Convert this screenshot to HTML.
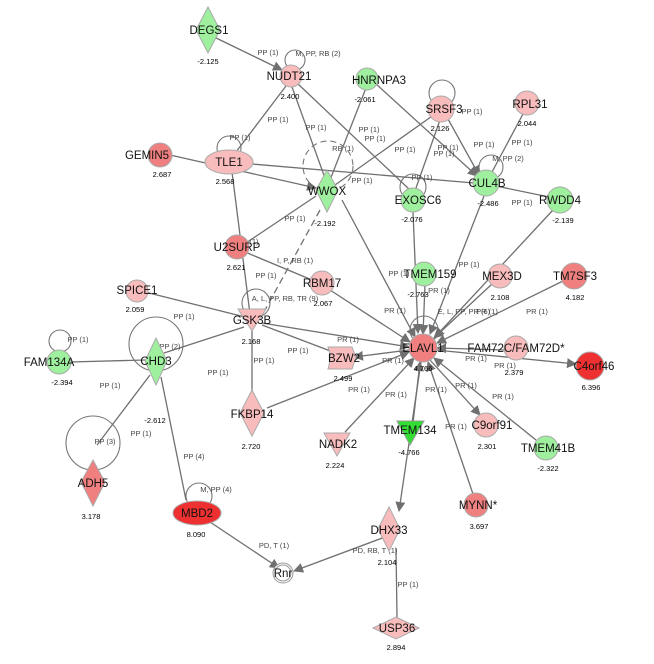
<!DOCTYPE html>
<html><head><meta charset="utf-8"><style>
html,body{margin:0;padding:0;background:#fff;}
svg{display:block;font-family:"Liberation Sans",sans-serif;}
.l{font-size:11.5px;fill:#111;text-anchor:middle;}
.v{font-size:7.5px;fill:#000;text-anchor:middle;}
.e{font-size:7.5px;fill:#444;text-anchor:middle;}
line,path.ed{stroke:#707070;stroke-width:1.3;fill:none;}
.lp{stroke:#777;stroke-width:1.1;fill:none;}
.pk{fill:#f9bcbc;stroke:#aaa;stroke-width:1;}
.md{fill:#f08080;stroke:#aaa;stroke-width:1;}
.rd{fill:#ee3030;stroke:#aaa;stroke-width:1;}
.gr{fill:#9ef09e;stroke:#aaa;stroke-width:1;}
.dg{fill:#33dd33;stroke:#999;stroke-width:1;}
</style></head><body>
<svg width="654" height="664" viewBox="0 0 654 664">
<defs><marker id="a" markerWidth="10" markerHeight="10" refX="9" refY="5" orient="auto" markerUnits="userSpaceOnUse"><path d="M0,0 L10,5 L0,10 z" fill="#707070"/></marker></defs>
<!-- self loops -->
<circle class="lp" cx="295" cy="60" r="10"/>
<circle class="lp" cx="442" cy="93" r="13"/>
<circle class="lp" cx="229" cy="148" r="12"/>
<circle class="lp" cx="413" cy="187" r="13"/>
<circle class="lp" cx="491" cy="167" r="12"/>
<circle class="lp" cx="328" cy="166" r="25" stroke-dasharray="6,4"/>
<circle class="lp" cx="256" cy="303" r="14"/>
<circle class="lp" cx="424" cy="330" r="14"/>
<circle class="lp" cx="60" cy="341" r="11"/>
<circle class="lp" cx="156" cy="344" r="27"/>
<circle class="lp" cx="93" cy="443" r="27"/>
<circle class="lp" cx="199" cy="496" r="13"/>
<!-- edges -->
<line x1="212" y1="36" x2="282" y2="70" marker-end="url(#a)"/>
<line x1="286" y1="86" x2="236" y2="152"/>
<line x1="292" y1="87" x2="325" y2="178"/>
<line x1="297" y1="83" x2="410" y2="190"/>
<line x1="366" y1="88" x2="330" y2="180"/>
<line x1="375" y1="83" x2="477" y2="176" marker-end="url(#a)"/>
<line x1="435" y1="114" x2="335" y2="185"/>
<line x1="440" y1="120" x2="416" y2="188"/>
<line x1="448" y1="119" x2="479" y2="175" marker-end="url(#a)"/>
<line x1="523" y1="114" x2="492" y2="172"/>
<line x1="252" y1="164" x2="474" y2="183"/>
<line x1="170" y1="155" x2="316" y2="188" marker-end="url(#a)"/>
<line x1="342" y1="200" x2="415" y2="337" marker-end="url(#a)"/>
<line x1="413" y1="212" x2="418" y2="333" marker-end="url(#a)"/>
<line x1="484" y1="196" x2="430" y2="334" marker-end="url(#a)"/>
<line x1="496" y1="186" x2="549" y2="197"/>
<line x1="553" y1="210" x2="435" y2="337" marker-end="url(#a)"/>
<line x1="246" y1="243" x2="316" y2="196"/>
<line x1="245" y1="252" x2="312" y2="280"/>
<line x1="330" y1="290" x2="410" y2="342" marker-end="url(#a)"/>
<line x1="320" y1="210" x2="265" y2="310" stroke-dasharray="7,4"/>
<line x1="232" y1="172" x2="250" y2="314"/>
<line x1="145" y1="292" x2="245" y2="317"/>
<line x1="425" y1="285" x2="423" y2="334" marker-end="url(#a)"/>
<line x1="492" y1="284" x2="434" y2="338" marker-end="url(#a)"/>
<line x1="563" y1="281" x2="437" y2="343" marker-end="url(#a)"/>
<line x1="262" y1="323" x2="409" y2="347" marker-end="url(#a)"/>
<line x1="262" y1="325" x2="333" y2="352"/>
<line x1="409" y1="350" x2="354" y2="357" marker-end="url(#a)"/>
<line x1="252" y1="330" x2="252" y2="395"/>
<line x1="267" y1="408" x2="409" y2="352" marker-end="url(#a)"/>
<line x1="244" y1="327" x2="164" y2="353"/>
<line x1="504" y1="350" x2="437" y2="348" marker-end="url(#a)"/>
<line x1="436" y1="350" x2="576" y2="364" marker-end="url(#a)"/>
<line x1="345" y1="432" x2="414" y2="358" marker-end="url(#a)"/>
<line x1="413" y1="423" x2="420" y2="362" marker-end="url(#a)"/>
<line x1="430" y1="360" x2="480" y2="415" marker-end="url(#a)"/>
<line x1="536" y1="440" x2="434" y2="358" marker-end="url(#a)"/>
<line x1="473" y1="494" x2="428" y2="362" marker-end="url(#a)"/>
<line x1="421" y1="362" x2="399" y2="511" marker-end="url(#a)"/>
<line x1="70" y1="362" x2="145" y2="360"/>
<line x1="150" y1="375" x2="97" y2="445"/>
<line x1="161" y1="377" x2="186" y2="500"/>
<line x1="207" y1="520" x2="279" y2="568" marker-end="url(#a)"/>
<line x1="385" y1="537" x2="294" y2="571" marker-end="url(#a)"/>
<line x1="396" y1="548" x2="397" y2="617"/>
<!-- edge labels -->
<g class="e">
<text x="268" y="55">PP (1)</text><text x="318" y="56">M, PP, RB (2)</text>
<text x="278" y="122">PP (1)</text><text x="240" y="140">PP (1)</text>
<text x="316" y="130">PP (1)</text><text x="369" y="132">PP (1)</text><text x="375" y="141">PP (1)</text>
<text x="343" y="151">RB (1)</text><text x="405" y="152">PP (1)</text><text x="444" y="156">PP (1)</text>
<text x="362" y="183">PP (1)</text><text x="422" y="180">PP (1)</text>
<text x="472" y="114">PP (1)</text><text x="484" y="147">PP (1)</text><text x="448" y="150">PP (1)</text>
<text x="522" y="145">PP (1)</text><text x="508" y="161">M, PP (2)</text>
<text x="522" y="205">PP (1)</text><text x="469" y="267">PP (1)</text>
<text x="295" y="221">PP (1)</text><text x="248" y="244">PP (1)</text><text x="295" y="263">I, P, RB (1)</text>
<text x="266" y="278">PP (1)</text><text x="184" y="319">PP (1)</text>
<text x="285" y="301">A, L, PP, RB, TR (9)</text>
<text x="399" y="276">PP (1)</text><text x="439" y="293">PR (1)</text><text x="464" y="314">E, L, PP, PR (6)</text>
<text x="487" y="314">PR (1)</text><text x="537" y="314">PR (1)</text>
<text x="395" y="313">PR (1)</text><text x="298" y="353">PP (1)</text><text x="348" y="342">PR (1)</text>
<text x="393" y="363">PR (1)</text><text x="264" y="363">PP (1)</text><text x="359" y="392">PR (1)</text>
<text x="218" y="375">PP (1)</text><text x="476" y="361">PR (1)</text><text x="505" y="368">PR (1)</text>
<text x="396" y="397">PR (1)</text><text x="436" y="392">PR (1)</text><text x="466" y="388">PR (1)</text>
<text x="503" y="399">PR (1)</text><text x="456" y="429">PR (1)</text>
<text x="78" y="342">PP (1)</text><text x="170" y="349">PP (2)</text><text x="110" y="388">PP (1)</text>
<text x="141" y="436">PP (1)</text><text x="105" y="444">PP (3)</text>
<text x="194" y="459">PP (4)</text><text x="216" y="492">M, PP (4)</text>
<text x="274" y="548">PD, T (1)</text><text x="375" y="553">PD, RB, T (1)</text>
<text x="408" y="587">PP (1)</text>
</g>
<!-- nodes -->
<polygon class="gr" points="208,7 220,30 208,53 196,30"/>
<circle class="pk" cx="291" cy="76" r="11"/>
<circle class="gr" cx="367" cy="79" r="11"/>
<circle class="pk" cx="441" cy="109" r="13"/>
<circle class="pk" cx="527" cy="103" r="12"/>
<circle class="md" cx="160" cy="155" r="12"/>
<ellipse class="pk" cx="229" cy="162" rx="24" ry="12"/>
<polygon class="gr" points="327,170 338,190 327,212 316,190"/>
<circle class="gr" cx="413" cy="200" r="12"/>
<circle class="gr" cx="486" cy="183" r="13"/>
<circle class="gr" cx="560" cy="200" r="13"/>
<circle class="md" cx="237" cy="247" r="12"/>
<circle class="pk" cx="322" cy="283" r="12"/>
<circle class="gr" cx="424" cy="274" r="12"/>
<circle class="pk" cx="500" cy="276" r="12"/>
<circle class="md" cx="574" cy="276" r="13"/>
<circle class="pk" cx="137" cy="291" r="11"/>
<polygon class="pk" points="238,309 266,309 252,331"/>
<circle class="md" cx="423" cy="348" r="14"/>
<polygon class="pk" points="328,347 352,347 356,357 352,369 328,369 331,357"/>
<circle class="pk" cx="516" cy="348" r="12"/>
<circle class="rd" cx="590" cy="366" r="14"/>
<circle class="gr" cx="59" cy="362" r="12"/>
<polygon class="gr" points="156,338 167,361 156,385 145,361"/>
<polygon class="pk" points="252,390 264,413 252,436 240,413"/>
<polygon class="pk" points="324,433 350,433 337,456"/>
<polygon class="dg" points="397,421 424,421 410,445"/>
<circle class="pk" cx="486" cy="425" r="12"/>
<circle class="gr" cx="546" cy="448" r="12"/>
<polygon class="md" points="93,460 105,482 93,506 81,482"/>
<circle class="md" cx="476" cy="505" r="12"/>
<ellipse class="rd" cx="197" cy="513" rx="24" ry="12"/>
<polygon class="pk" points="389,507 400,529 389,551 378,529"/>
<circle cx="283" cy="573" r="10" fill="#fff" stroke="#999"/>
<circle cx="283" cy="573" r="8" fill="#fff" stroke="#999"/>
<polygon class="pk" points="396,617 419,628 396,639 373,628"/>
<!-- labels -->
<g class="l">
<text x="209" y="34">DEGS1</text><text x="289" y="80">NUDT21</text><text x="379" y="84">HNRNPA3</text>
<text x="444" y="113">SRSF3</text><text x="530" y="108">RPL31</text><text x="147" y="159">GEMIN5</text>
<text x="229" y="166">TLE1</text><text x="327" y="195">WWOX</text><text x="418" y="204">EXOSC6</text>
<text x="487" y="187">CUL4B</text><text x="560" y="204">RWDD4</text><text x="237" y="251">U2SURP</text>
<text x="322" y="287">RBM17</text><text x="430" y="278">TMEM159</text><text x="502" y="280">MEX3D</text>
<text x="575" y="280">TM7SF3</text><text x="137" y="294">SPICE1</text><text x="252" y="324">GSK3B</text>
<text x="423" y="352">ELAVL1</text><text x="344" y="362">BZW2</text><text x="516" y="352">FAM72C/FAM72D*</text>
<text x="594" y="370">C4orf46</text><text x="49" y="366">FAM134A</text><text x="156" y="365">CHD3</text>
<text x="252" y="418">FKBP14</text><text x="338" y="448">NADK2</text><text x="410" y="434">TMEM134</text>
<text x="492" y="429">C9orf91</text><text x="548" y="452">TMEM41B</text><text x="93" y="487">ADH5</text>
<text x="478" y="509">MYNN*</text><text x="197" y="517">MBD2</text><text x="389" y="534">DHX33</text>
<text x="283" y="577">Rnr</text><text x="397" y="632">USP36</text>
</g>
<g class="v">
<text x="208" y="64">-2.125</text><text x="290" y="99">2.400</text><text x="365" y="102">-2.061</text>
<text x="440" y="131">2.126</text><text x="527" y="126">2.044</text><text x="162" y="177">2.687</text>
<text x="225" y="184">2.568</text><text x="325" y="226">-2.192</text><text x="412" y="222">-2.076</text>
<text x="488" y="206">-2.486</text><text x="563" y="223">-2.139</text><text x="236" y="270">2.621</text>
<text x="323" y="306">2.067</text><text x="418" y="297">-2.763</text><text x="500" y="300">2.108</text>
<text x="575" y="300">4.182</text><text x="135" y="312">2.059</text><text x="251" y="344">2.168</text>
<text x="423" y="371">4.766</text><text x="343" y="381">2.499</text><text x="514" y="375">2.379</text>
<text x="591" y="390">6.396</text><text x="62" y="385">-2.394</text><text x="155" y="423">-2.612</text>
<text x="251" y="449">2.720</text><text x="335" y="468">2.224</text><text x="409" y="455">-4.766</text>
<text x="487" y="449">2.301</text><text x="548" y="471">-2.322</text><text x="91" y="519">3.178</text>
<text x="479" y="529">3.697</text><text x="196" y="537">8.090</text><text x="387" y="565">2.104</text>
<text x="396" y="650">2.894</text>
</g>
</svg>
</body></html>
